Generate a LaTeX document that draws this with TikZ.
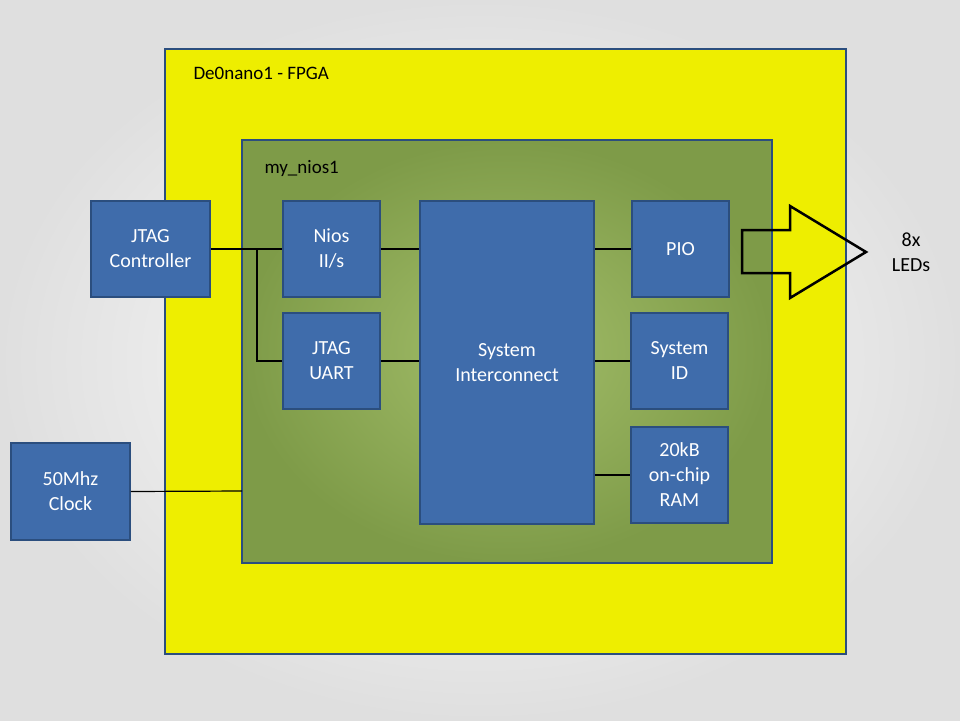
\documentclass[tikz,border=0pt]{standalone}
\usepackage{fontspec}
\setmainfont{Carlito}
\usetikzlibrary{positioning,calc}
\definecolor{blk}{HTML}{3F6CAB}
\definecolor{blkline}{HTML}{2B4E7E}
\definecolor{fpga}{HTML}{EEEE00}
\definecolor{nios}{HTML}{7E9B48}
\definecolor{niosc}{HTML}{A3BE6A}
\begin{document}
\begin{tikzpicture}[x=1pt, y=-1pt,
    blk/.style={draw=blkline, line width=1.5pt, fill=blk, text=white, align=center,
      inner sep=0pt, font=\fontsize{20}{25}\selectfont},
    lbl/.style={anchor=west, font=\fontsize{19}{23}\selectfont},
    wire/.style={line width=1.2pt}
  ]
    \shade[inner color=white, outer color=gray!25] (0,0) rectangle (960,720);
    \useasboundingbox (0,0) rectangle (960,720);
    % FPGA and Nios system
    \draw[blkline, line width=1.5pt, fill=fpga] (165,49) rectangle (846,654);
    \node[lbl] at (190,73) {De0nano1 - FPGA};
    \shade[inner color=niosc, outer color=nios] (242,140) rectangle (772,563);
    \draw[blkline, line width=1.5pt] (242,140) rectangle (772,563);
    \coordinate (sysw) at (242,491);
    \node[lbl] at (261,168) {my\_nios1};
    % blocks
    \node[blk, minimum width=119, minimum height=96] (jtag) at (150.5,249) {JTAG\\Controller};
    \node[blk, minimum width=119, minimum height=97] (clk) at (70.5,491.5) {50Mhz\\Clock};
    \node[blk, minimum width=97, minimum height=96] (cpu) at (331.5,249) {Nios\\II/s};
    \node[blk, minimum width=97, minimum height=96] (uart) at (331.5,361) {JTAG\\UART};
    \node[blk, minimum width=174, minimum height=323] (ic) at (507,362.5) {System\\Interconnect};
    \node[blk, minimum width=97, minimum height=96] (pio) at (680.5,249) {PIO};
    \node[blk, minimum width=97, minimum height=96] (sid) at (679.5,361) {System\\ID};
    \node[blk, minimum width=97, minimum height=96] (ram) at (679.5,475) {20kB\\on-chip\\RAM};
    \node[align=center, font=\fontsize{20}{25}\selectfont] (leds) at (911,252) {8x\\LEDs};

    \draw[wire] (jtag.east) -- (cpu.west);
    \draw[wire] (jtag.east -| 257,0) |- (uart.west);
    \draw[wire] (cpu.east) -- (cpu.east -| ic.west);
    \draw[wire] (uart.east) -- (uart.east -| ic.west);
    \draw[wire] (pio.west -| ic.east) -- (pio.west);
    \draw[wire] (sid.west -| ic.east) -- (sid.west);
    \draw[wire] (ram.west -| ic.east) -- (ram.west);
    \draw[wire] (clk.east) -- (sysw);
    % output arrow
    \draw[line width=2.5pt, line join=miter] (742,230) -- (790,230) -- (790,206) -- (866,252)
      -- (790,298) -- (790,273) -- (742,273) -- cycle;
  \end{tikzpicture}
\end{document}
